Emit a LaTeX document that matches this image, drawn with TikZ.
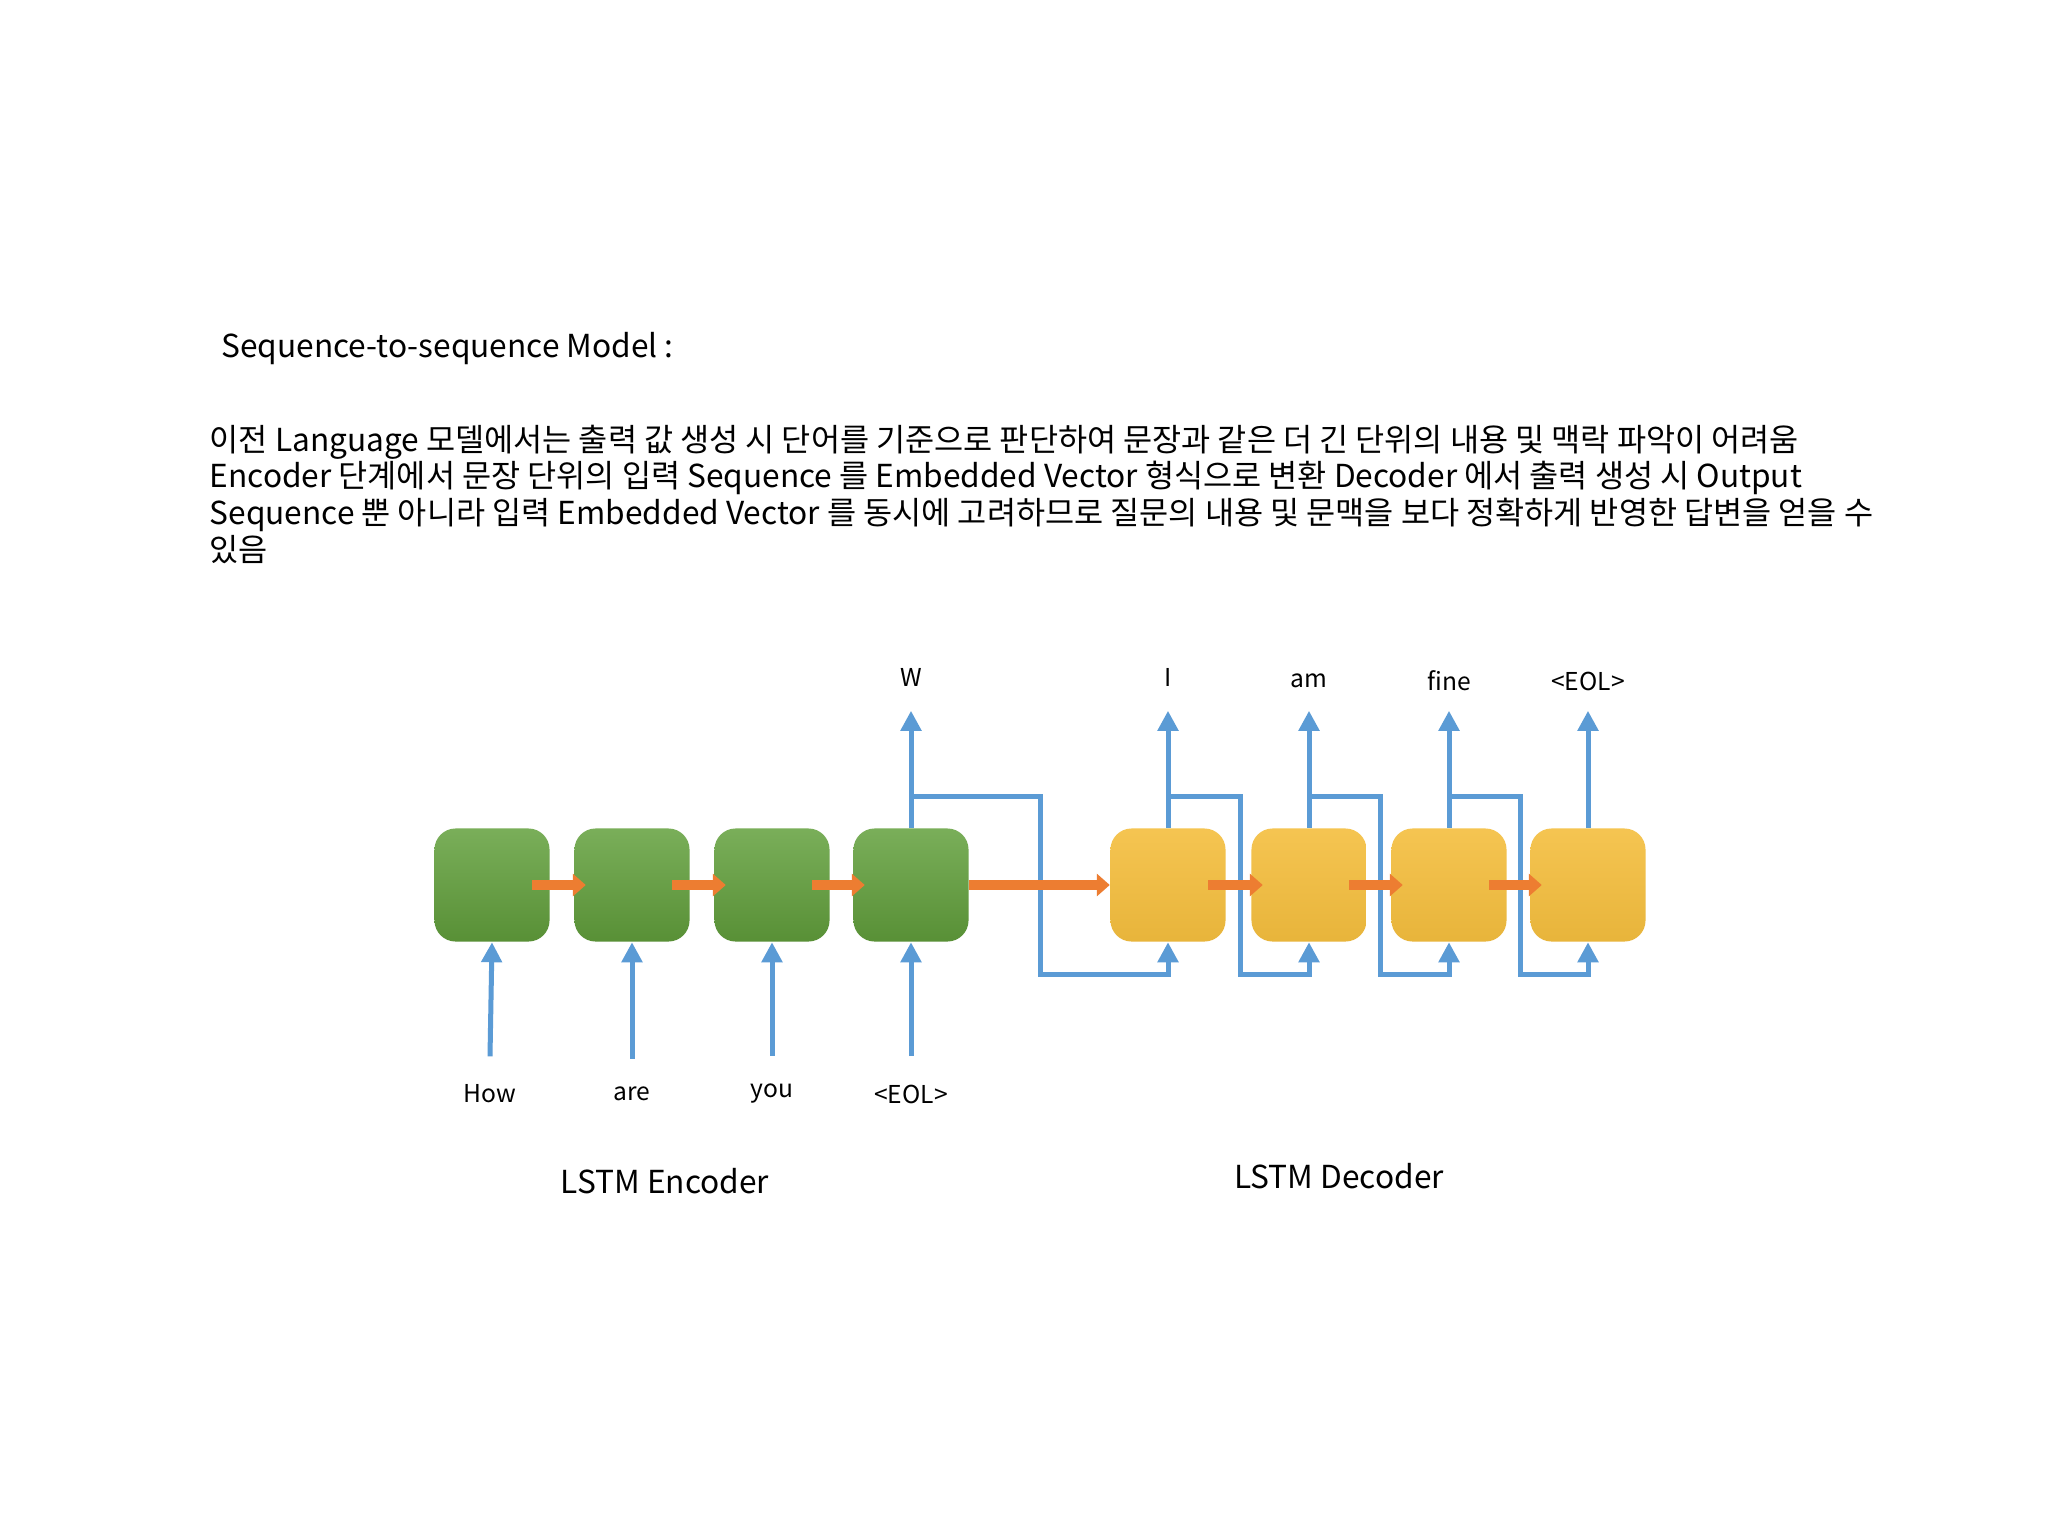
\documentclass[tikz,border=0pt]{standalone}
\usepackage{fontspec}
\setmainfont{Noto Sans CJK KR}
\usetikzlibrary{arrows.meta}
\definecolor{encgreen}{HTML}{62A03C}
\definecolor{decyellow}{HTML}{F4BE3E}
\definecolor{linkblue}{HTML}{5B9BD5}
\definecolor{passorange}{HTML}{ED7D31}
\begin{document}
\begin{tikzpicture}[x=0.01cm,y=-0.01cm]
\tikzstyle{cell} = [shape=rectangle,rounded corners=6pt,minimum width=1.15cm,minimum height=1.13cm,inner sep=0pt]
\tikzstyle{enc} = [cell,top color=encgreen!85!white,bottom color=encgreen!90!black]
\tikzstyle{dec} = [cell,top color=decyellow!90!white,bottom color=decyellow!95!black]
\tikzstyle{word} = [font=\fontsize{7}{8}\selectfont]
\tikzstyle{feed} = [draw=linkblue,line width=0.05cm,-{Triangle[width=0.2cm,length=0.2cm]}]
\tikzstyle{pass} = [draw=passorange,line width=0.1cm,-{Triangle[width=0.22cm,length=0.13cm]}]

\useasboundingbox (0,0) rectangle (2048,1536);
\fill[white] (0,0) rectangle (2048,1536);

\node[anchor=base west,font=\fontsize{9}{10.5}\selectfont] (title) at (209,357) {Sequence-to-sequence Model :};
\node[anchor=north west,align=left,inner sep=0pt,font=\fontsize{9}{10.5}\selectfont] (body) at (209,424)
{이전 Language 모델에서는 출력 값 생성 시 단어를 기준으로 판단하여 문장과 같은 더 긴 단위의 내용 및 맥락 파악이 어려움\\
Encoder 단계에서 문장 단위의 입력 Sequence 를 Embedded Vector 형식으로 변환 Decoder 에서 출력 생성 시 Output\\
Sequence 뿐 아니라 입력 Embedded Vector 를 동시에 고려하므로 질문의 내용 및 문맥을 보다 정확하게 반영한 답변을 얻을 수\\
있음};

% encoder
\node[enc] (e1) at (492,885) {};
\node[enc] (e2) at (632,885) {};
\node[enc] (e3) at (772,885) {};
\node[enc] (e4) at (911,885) {};
% decoder
\node[dec] (d1) at (1168,885) {};
\node[dec] (d2) at (1309,885) {};
\node[dec] (d3) at (1449,885) {};
\node[dec] (d4) at (1588,885) {};

% inputs
\node[word] (in1) at (490,1094) {How};
\node[word] (in2) at (632,1094) {are};
\node[word] (in3) at (772,1094) {you};
\node[word] (in4) at (911,1094) {<EOL>};
\foreach \i in {1,...,4}
  \draw[feed] (in\i.north) ++(0,-16) -- (e\i.south);

% outputs
\node[word] (w) at (911,677) {W};
\node[word] (o1) at (1168,677) {I};
\node[word] (o2) at (1309,681) {am};
\node[word] (o3) at (1449,681) {fine};
\node[word] (o4) at (1588,681) {<EOL>};
\draw[feed] (e4.north) -- ++(0,-117);
\foreach \i in {1,...,4}
  \draw[feed] (d\i.north) -- ++(0,-117);

% feedback
\coordinate (k0) at (1040,796);
\coordinate (k1) at (1240,796);
\coordinate (k2) at (1380,796);
\coordinate (k3) at (1520,796);
\draw[feed] (e4.north |- k0) -| (k0) |- (1168,974) -- (d1.south);
\draw[feed] (d1.north |- k1) -| (k1) |- (1309,974) -- (d2.south);
\draw[feed] (d2.north |- k2) -| (k2) |- (1449,974) -- (d3.south);
\draw[feed] (d3.north |- k3) -| (k3) |- (1588,974) -- (d4.south);

% passing state
\draw[pass] ([xshift=-0.18cm]e1.east) -- ([xshift=0.12cm]e2.west);
\draw[pass] ([xshift=-0.18cm]e2.east) -- ([xshift=0.12cm]e3.west);
\draw[pass] ([xshift=-0.18cm]e3.east) -- ([xshift=0.12cm]e4.west);
\draw[pass] (e4.east) -- (d1.west);
\draw[pass] ([xshift=-0.18cm]d1.east) -- ([xshift=0.12cm]d2.west);
\draw[pass] ([xshift=-0.18cm]d2.east) -- ([xshift=0.12cm]d3.west);
\draw[pass] ([xshift=-0.18cm]d3.east) -- ([xshift=0.12cm]d4.west);

\node[font=\fontsize{9}{10}\selectfont] (encname) at (665,1181) {LSTM Encoder};
\node[font=\fontsize{9}{10}\selectfont] (decname) at (1339,1176) {LSTM Decoder};
\end{tikzpicture}
\end{document}
